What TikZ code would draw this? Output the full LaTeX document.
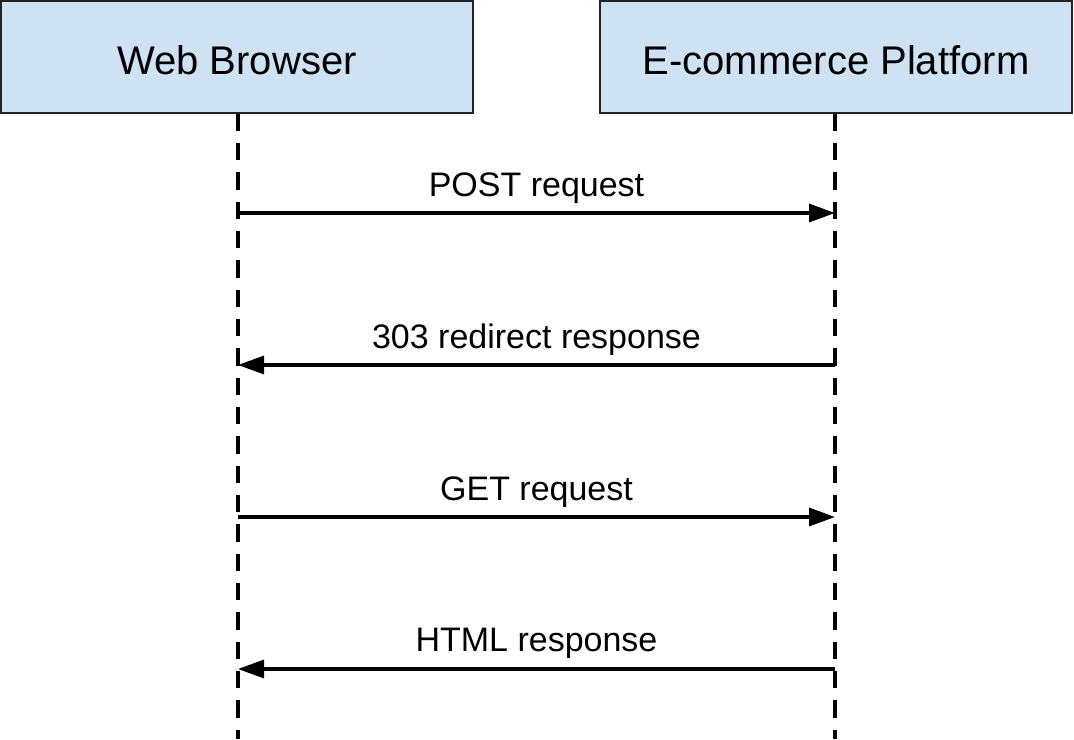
\documentclass[tikz,border=0pt]{standalone}
\usepackage{fontspec}
\setmainfont{Liberation Sans}
\usetikzlibrary{arrows.meta}
\definecolor{boxfill}{HTML}{CFE2F3}
\definecolor{boxline}{HTML}{222222}
\begin{document}
\begin{tikzpicture}[x=0.75pt,y=-0.75pt,
  actor/.style={draw=boxline,fill=boxfill,line width=1.1pt,minimum width=354pt,minimum height=84pt,inner sep=0pt,font=\fontsize{30}{36}\selectfont},
  lifeline/.style={line width=2.5pt,dash pattern=on 13pt off 9pt},
  msg/.style={line width=2.5pt,-{Triangle[length=19.5pt,width=13.5pt]}},
  lbl/.style={font=\fontsize{25.5}{30}\selectfont,inner sep=0pt}]
\useasboundingbox (0,0) rectangle (1074,739);
\node[actor] (wb) at (237,57) {};
\node[actor] (ep) at (836,57) {};
\node[font=\fontsize{30}{36}\selectfont,inner sep=0pt] (wbt) at (237,60) {Web Browser};
\node[font=\fontsize{30}{36}\selectfont,inner sep=0pt] (ept) at (836,60) {E-commerce Platform};
\coordinate (wbtop) at (238,113.5);
\coordinate (eptop) at (835,113.5);
\coordinate (wbend) at (238,739);
\coordinate (epend) at (835,739);
\draw[lifeline] (wbtop) -- (wbend);
\draw[lifeline] (eptop) -- (epend);
\foreach \n/\y in {1/213,2/365,3/517,4/669}{
  \coordinate (wb\n) at (238,\y);
  \coordinate (ep\n) at (835,\y);
}
\draw[msg] (wb1) -- (ep1) node[lbl,midway,yshift=19pt] (l1) {POST request};
\draw[msg] (ep2) -- (wb2) node[lbl,midway,yshift=19pt] (l2) {303 redirect response};
\draw[msg] (wb3) -- (ep3) node[lbl,midway,yshift=19pt] (l3) {GET request};
\draw[msg] (ep4) -- (wb4) node[lbl,midway,yshift=19pt] (l4) {HTML response};
\end{tikzpicture}
\end{document}
